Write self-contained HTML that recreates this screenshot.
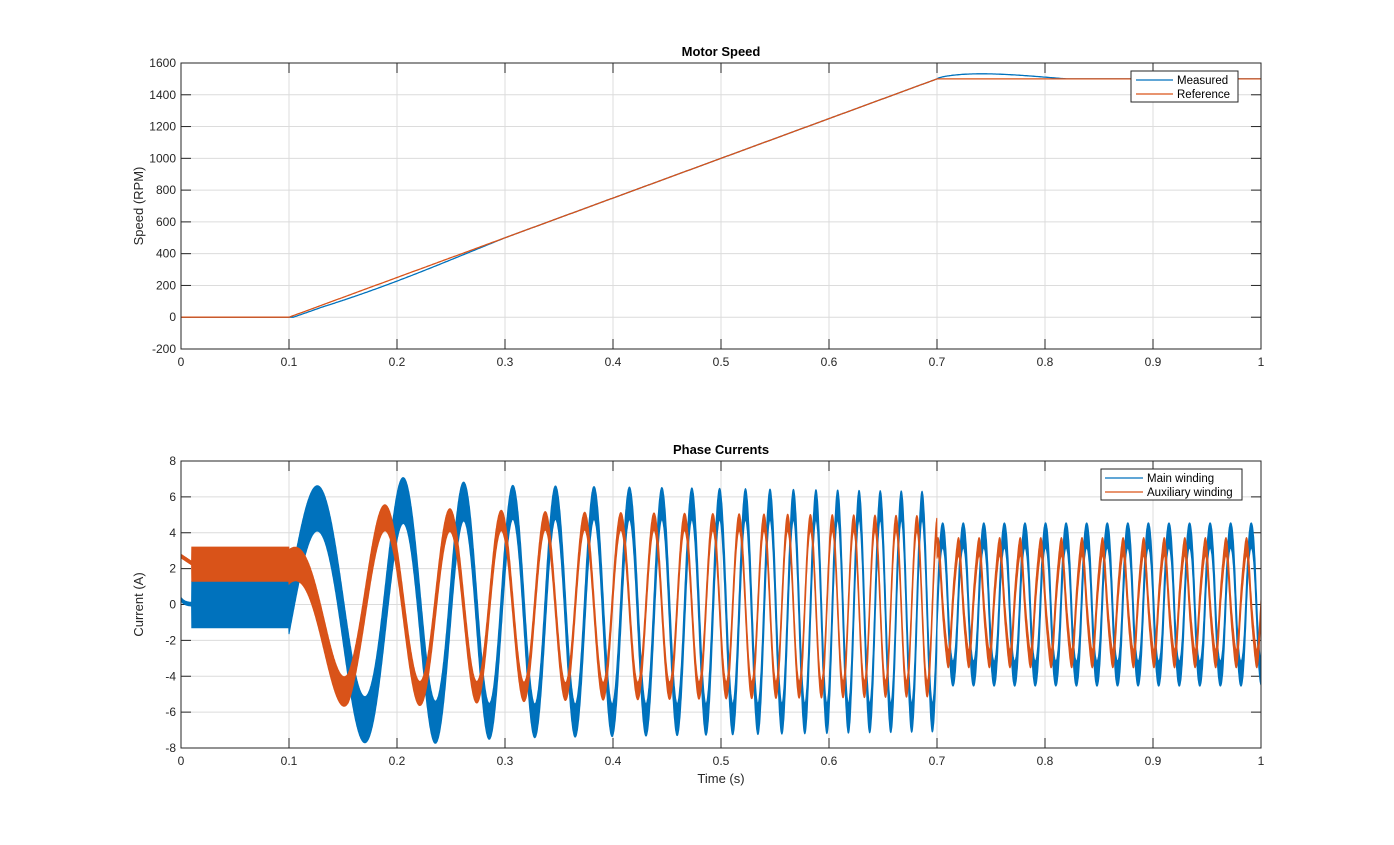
<!DOCTYPE html><html><head><meta charset="utf-8"><style>body{margin:0;background:#fff}svg{font-family:"Liberation Sans",Arial,sans-serif}</style></head><body>
<svg id="s" width="1394" height="840" xmlns="http://www.w3.org/2000/svg"></svg>
<script>
const S=document.getElementById('s');let h='';
const X0=181,X1=1261;const xp=t=>X0+t*(X1-X0);
function axes(top,bot,ymin,ymax,step,title,ylab,xlab){
 const yp=v=>bot-(v-ymin)/(ymax-ymin)*(bot-top);
 h+=`<rect x="${X0}" y="${top}" width="${X1-X0}" height="${bot-top}" fill="#fff"/>`;
 for(let i=0;i<=10;i++){const x=xp(i/10);h+=`<line x1="${x}" y1="${top}" x2="${x}" y2="${bot}" stroke="#dcdcdc"/>`;
  h+=`<line x1="${x}" y1="${bot}" x2="${x}" y2="${bot-10}" stroke="#262626"/><line x1="${x}" y1="${top}" x2="${x}" y2="${top+10}" stroke="#262626"/>`;
  h+=`<text x="${x}" y="${bot+17}" font-size="12" text-anchor="middle" fill="#262626">${i==0?0:i==10?1:(i/10).toFixed(1)}</text>`;}
 for(let v=ymin;v<=ymax;v+=step){const y=yp(v);h+=`<line x1="${X0}" y1="${y}" x2="${X1}" y2="${y}" stroke="#dcdcdc"/>`;
  h+=`<line x1="${X0}" y1="${y}" x2="${X0+10}" y2="${y}" stroke="#262626"/><line x1="${X1}" y1="${y}" x2="${X1-10}" y2="${y}" stroke="#262626"/>`;
  h+=`<text x="${X0-5}" y="${y+4}" font-size="12" text-anchor="end" fill="#262626">${v}</text>`;}
 h+=`<text x="${(X0+X1)/2}" y="${top-7}" font-size="13" font-weight="bold" text-anchor="middle" fill="#000">${title}</text>`;
 h+=`<text transform="translate(${X0-38},${(top+bot)/2}) rotate(-90)" font-size="13" text-anchor="middle" fill="#262626">${ylab}</text>`;
 if(xlab)h+=`<text x="${(X0+X1)/2}" y="${bot+35}" font-size="13" text-anchor="middle" fill="#262626">${xlab}</text>`;
 return yp;}
const B='#0072BD',O='#D95319';
let yp=axes(63,349,-200,1600,200,'Motor Speed','Speed (RPM)');
let pm=[],pr=[];
for(let i=0;i<=1000;i++){const t=i/1000;let r=t<0.1?0:t<0.7?(t-0.1)/0.6*1500:1500;let m;
 if(t<0.1)m=0;else if(t<0.7){const d=t-0.1;m=r;if(d<0.2)m=Math.max(0,r-30*Math.sin(Math.PI*d/0.2)*(1-d/0.4)-(d<0.03?(0.03-d)*300:0));}
 else{const d=t-0.7;m=d<0.12?1500+32*Math.sin(Math.PI*Math.pow(d/0.12,0.65)):1500;}
 pm.push(xp(t).toFixed(1)+','+yp(m).toFixed(1));pr.push(xp(t).toFixed(1)+','+yp(r).toFixed(1));}
h+=`<polyline points="${pm.join(' ')}" fill="none" stroke="${B}" stroke-width="1.3"/><polyline points="${pr.join(' ')}" fill="none" stroke="${O}" stroke-width="1.3"/>`;
h+=`<rect x="${X0}" y="63" width="${X1-X0}" height="286" fill="none" stroke="#262626"/>`;
h+=`<rect x="1131" y="71" width="107" height="31" fill="#fff" stroke="#262626"/><line x1="1136" y1="80" x2="1173" y2="80" stroke="${B}" stroke-width="1.3"/><line x1="1136" y1="94" x2="1173" y2="94" stroke="${O}" stroke-width="1.3"/><text x="1177" y="84" font-size="11.5">Measured</text><text x="1177" y="98" font-size="11.5">Reference</text>`;
yp=axes(461,748,-8,8,2,'Phase Currents','Current (A)','Time (s)');
const FK=[[0.1,9],[0.168,12.3],[0.235,18],[0.285,22],[0.33,25.6],[0.4,30.5],[0.46,36],[0.51,41.7],[0.555,46],[0.6,50],[0.7,52.5],[1.01,52.5]];
function interp(K,t){if(t<=K[0][0])return K[0][1];for(let i=1;i<K.length;i++)if(t<=K[i][0]){const[a,b]=K[i-1],[c,d]=K[i];return b+(d-b)*(t-a)/(c-a);}return K[K.length-1][1];}
const AM=[[0.1,5.6],[0.2,6.2],[0.3,6.1],[0.7,5.9]],WM=[[0.1,2.5],[0.2,2.6],[0.3,1.9],[0.7,1.6]];
const AA=[[0.1,2.2],[0.155,5.0],[0.25,4.8],[0.7,4.6]],WA=[[0.1,1.9],[0.2,1.4],[0.35,1.0],[0.7,0.9]];
let N=5000,ph=0,mu=[],ml=[],au=[],al=[];
for(let i=0;i<=N;i++){const t=i/N;if(t>0.1)ph+=2*Math.PI*interp(FK,t)/N;
 let m,a,wm,wa;
 if(t<0.1){m=t<0.01?0.3*Math.exp(-t*300):0;a=t<0.01?2.7-t*40:2.25;wm=t<0.01?0.2:2.6;wa=t<0.01?0.2:1.9;}
 else if(t<0.7){m=interp(AM,t)*Math.sin(ph)-0.4;a=interp(AA,t)*Math.cos(ph)-0.1;wm=interp(WM,t);wa=interp(WA,t);}
 else{m=4.0*Math.sin(ph)+0.15*Math.sin(3*ph);a=3.0*Math.cos(ph)+0.2*Math.sin(3*ph+0.5)+0.1;wm=1.4;wa=1.0;}
 const x=xp(t).toFixed(1);mu.push(x+','+yp(m+wm/2).toFixed(1));ml.unshift(x+','+yp(m-wm/2).toFixed(1));
 au.push(x+','+yp(a+wa/2).toFixed(1));al.unshift(x+','+yp(a-wa/2).toFixed(1));}
h+=`<polygon points="${mu.join(' ')} ${ml.join(' ')}" fill="${B}" stroke="${B}" stroke-width="1"/>`;
h+=`<polygon points="${au.join(' ')} ${al.join(' ')}" fill="${O}" stroke="${O}" stroke-width="1"/>`;
h+=`<rect x="${X0}" y="461" width="${X1-X0}" height="287" fill="none" stroke="#262626"/>`;
h+=`<rect x="1101" y="469" width="141" height="31" fill="#fff" stroke="#262626"/><line x1="1105" y1="478" x2="1143" y2="478" stroke="${B}" stroke-width="1.3"/><line x1="1105" y1="492" x2="1143" y2="492" stroke="${O}" stroke-width="1.3"/><text x="1147" y="482" font-size="11.5">Main winding</text><text x="1147" y="496" font-size="11.5">Auxiliary winding</text>`;
S.innerHTML=h;
</script></body></html>
